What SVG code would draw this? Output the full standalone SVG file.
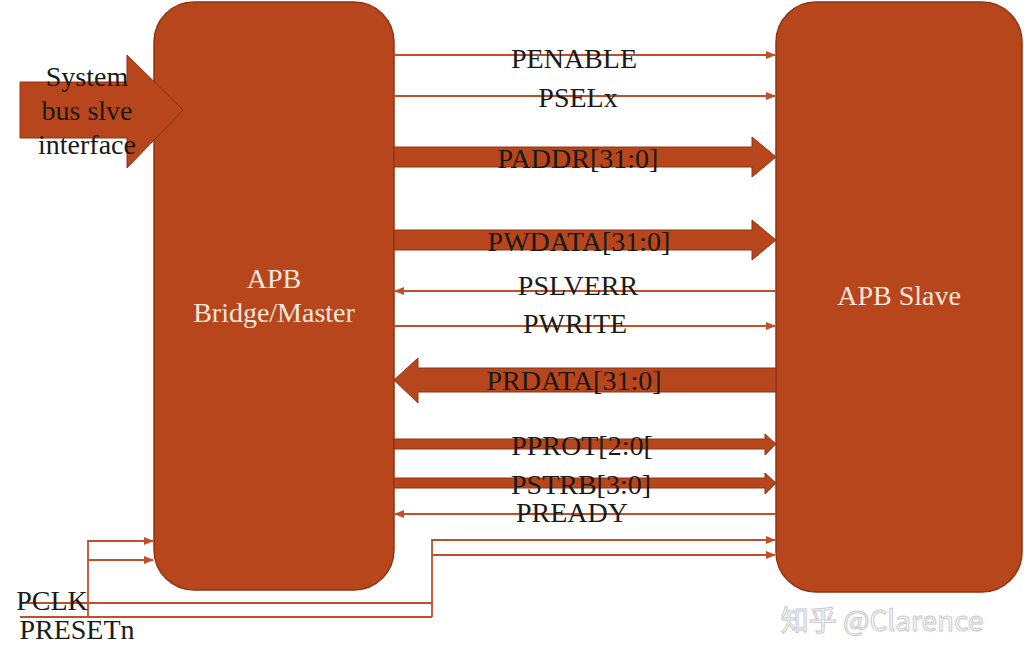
<svg xmlns="http://www.w3.org/2000/svg" width="1024" height="664" viewBox="0 0 1024 664">
<defs>
<style>
.blk{fill:#b8461c;stroke:#8f3512;stroke-width:1.5}
.ln{stroke:#c0502a;stroke-width:1.8;fill:none}
.fat{fill:#b8461c;stroke:#8f3512;stroke-width:1}
.t{font-family:"Liberation Serif","DejaVu Serif",serif;font-size:28px;fill:#1a1a1a;text-anchor:middle}
.w{font-family:"Liberation Serif","DejaVu Serif",serif;font-size:28px;fill:#f3e6de;text-anchor:middle}
</style>
<marker id="ar" markerWidth="10" markerHeight="8" refX="9" refY="4" orient="auto" markerUnits="userSpaceOnUse"><path d="M0,0L10,4L0,8z" fill="#c0502a"/></marker>
</defs>
<rect width="1024" height="664" fill="#fff"/>
<g id="master"><rect class="blk" x="154" y="2" width="240" height="588" rx="40"/>
<text class="w" x="274" y="288">APB</text><text class="w" x="274" y="322">Bridge/Master</text></g>
<g id="slave"><rect class="blk" x="776" y="2" width="246" height="590" rx="40"/>
<text class="w" x="899" y="305">APB Slave</text></g>
<g id="sysbus"><path class="fat" d="M20,82H127V55L183,110L127,168V138H20z"/>
<text class="t" x="87" y="86">System</text><text class="t" x="87" y="120">bus slve</text><text class="t" x="87" y="154">interface</text></g>
<g id="connectors">
<line class="ln" x1="394" y1="55" x2="775" y2="55" marker-end="url(#ar)"/>
<line class="ln" x1="394" y1="96" x2="775" y2="96" marker-end="url(#ar)"/>
<path class="fat" d="M394,147H752V137L776,157L752,177V167H394z"/>
<path class="fat" d="M394,230H752V220L776,240L752,260V250H394z"/>
<line class="ln" x1="776" y1="291" x2="395" y2="291" marker-end="url(#ar)"/>
<line class="ln" x1="394" y1="326" x2="775" y2="326" marker-end="url(#ar)"/>
<path class="fat" d="M776,368H418V358L394,380L418,403V392H776z"/>
<path class="fat" d="M394,439H765V434L776,444L765,455V449H394z"/>
<path class="fat" d="M394,478H765V473L776,483L765,494V488H394z"/>
<line class="ln" x1="776" y1="514" x2="395" y2="514" marker-end="url(#ar)"/>
<polyline class="ln" points="20,617 88,617 88,541 153,541" marker-end="url(#ar)"/>
<line class="ln" x1="88" y1="560" x2="153" y2="560" marker-end="url(#ar)"/>
<polyline class="ln" points="20,603 432,603 432,540 775,540" marker-end="url(#ar)"/>
<line class="ln" x1="20" y1="617" x2="432" y2="617"/>
<line class="ln" x1="432" y1="603" x2="432" y2="617"/>
<line class="ln" x1="432" y1="555" x2="775" y2="555" marker-end="url(#ar)"/>
</g>
<g id="labels">
<text class="t" x="574" y="68">PENABLE</text>
<text class="t" x="578" y="107">PSELx</text>
<text class="t" x="578" y="168">PADDR[31:0]</text>
<text class="t" x="579" y="251">PWDATA[31:0]</text>
<text class="t" x="578" y="295">PSLVERR</text>
<text class="t" x="575" y="333">PWRITE</text>
<text class="t" x="574" y="390">PRDATA[31:0]</text>
<text class="t" x="582" y="455">PPROT[2:0[</text>
<text class="t" x="581" y="494">PSTRB[3:0]</text>
<text class="t" x="572" y="522">PREADY</text>
<text class="t" x="52" y="610">PCLK</text>
<text class="t" x="77" y="639">PRESETn</text>
</g>
<text x="882" y="631" font-family="'Noto Sans CJK SC','DejaVu Sans',sans-serif" font-size="28" fill="#ffffff" stroke="#c8c8c8" stroke-width="1" text-anchor="middle">知乎 @Clarence</text>
</svg>
